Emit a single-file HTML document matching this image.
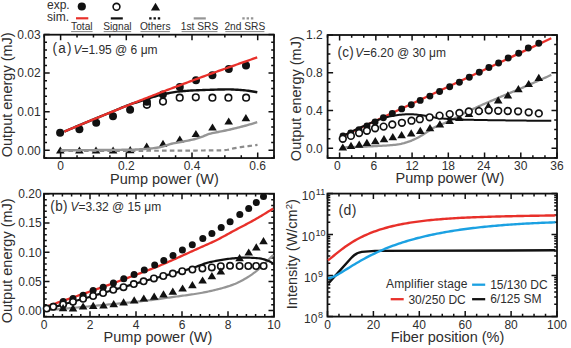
<!DOCTYPE html>
<html><head><meta charset="utf-8"><style>
html,body{margin:0;padding:0;background:#fff;}
body{width:571px;height:348px;overflow:hidden;font-family:"Liberation Sans",sans-serif;}
svg{display:block;}
text{font-family:"Liberation Sans",sans-serif;}
</style></head><body>
<svg width="571" height="348" viewBox="0 0 571 348" font-family="Liberation Sans, sans-serif">
<rect width="571" height="348" fill="#fff"/>
<text x="47" y="9.2" font-size="12" text-anchor="start" fill="#2e2e2e" >exp.</text>
<text x="47" y="20.6" font-size="12" text-anchor="start" fill="#2e2e2e" >sim.</text>
<circle cx="81.8" cy="6.5" r="4.1" fill="#111"/>
<circle cx="116.5" cy="6.8" r="3.4" fill="#fff" stroke="#111" stroke-width="1.6"/>
<path d="M155.5,2.7 L160.1,10.5 L150.9,10.5 Z" fill="#111"/>
<path d="M76,18.3 L88.3,18.3" fill="none" stroke="#e8302a" stroke-width="2.2" stroke-linejoin="round" />
<path d="M110.8,18.4 L122.8,18.4" fill="none" stroke="#111" stroke-width="2.2" stroke-linejoin="round" />
<path d="M149.2,18.4 L160.2,18.4" fill="none" stroke="#111" stroke-width="2.2" stroke-dasharray="2.4 1.9" stroke-linejoin="round" />
<path d="M193.7,18.4 L205.8,18.4" fill="none" stroke="#959595" stroke-width="2.2" stroke-linejoin="round" />
<path d="M242.3,18.4 L253.8,18.4" fill="none" stroke="#959595" stroke-width="2.2" stroke-dasharray="2.4 1.9" stroke-linejoin="round" />
<text x="81.85" y="29.8" font-size="10.2" text-anchor="middle" fill="#2e2e2e" >Total</text>
<line x1="71.1" y1="31.6" x2="92.6" y2="31.6" stroke="#777" stroke-width="0.9"/>
<text x="117.45" y="29.8" font-size="10.2" text-anchor="middle" fill="#2e2e2e" >Signal</text>
<line x1="103.7" y1="31.6" x2="131.2" y2="31.6" stroke="#777" stroke-width="0.9"/>
<text x="155.2" y="29.8" font-size="10.2" text-anchor="middle" fill="#2e2e2e" >Others</text>
<line x1="140.5" y1="31.6" x2="169.9" y2="31.6" stroke="#777" stroke-width="0.9"/>
<text x="199.55" y="29.8" font-size="10.2" text-anchor="middle" fill="#2e2e2e" >1st SRS</text>
<line x1="181.6" y1="31.6" x2="217.5" y2="31.6" stroke="#777" stroke-width="0.9"/>
<text x="244.85" y="29.8" font-size="10.2" text-anchor="middle" fill="#2e2e2e" >2nd SRS</text>
<line x1="225.3" y1="31.6" x2="264.4" y2="31.6" stroke="#777" stroke-width="0.9"/>
<path d="M44.17,158.05 v-2.8 M44.17,34.7 v2.8 M60.6,158.05 v-2.8 M60.6,34.7 v2.8 M77.03,158.05 v-2.8 M77.03,34.7 v2.8 M93.45,158.05 v-2.8 M93.45,34.7 v2.8 M109.88,158.05 v-2.8 M109.88,34.7 v2.8 M126.3,158.05 v-2.8 M126.3,34.7 v2.8 M142.73,158.05 v-2.8 M142.73,34.7 v2.8 M159.15,158.05 v-2.8 M159.15,34.7 v2.8 M175.58,158.05 v-2.8 M175.58,34.7 v2.8 M192,158.05 v-2.8 M192,34.7 v2.8 M208.43,158.05 v-2.8 M208.43,34.7 v2.8 M224.85,158.05 v-2.8 M224.85,34.7 v2.8 M241.28,158.05 v-2.8 M241.28,34.7 v2.8 M257.7,158.05 v-2.8 M257.7,34.7 v2.8 M274.12,158.05 v-2.8 M274.12,34.7 v2.8 M60.6,158.05 v-5.5 M60.6,34.7 v5.5 M126.3,158.05 v-5.5 M126.3,34.7 v5.5 M192,158.05 v-5.5 M192,34.7 v5.5 M257.7,158.05 v-5.5 M257.7,34.7 v5.5 M44.2,157.91 h2.8 M274,157.91 h-2.8 M44.2,150.2 h2.8 M274,150.2 h-2.8 M44.2,142.49 h2.8 M274,142.49 h-2.8 M44.2,134.78 h2.8 M274,134.78 h-2.8 M44.2,127.07 h2.8 M274,127.07 h-2.8 M44.2,119.36 h2.8 M274,119.36 h-2.8 M44.2,111.65 h2.8 M274,111.65 h-2.8 M44.2,103.94 h2.8 M274,103.94 h-2.8 M44.2,96.23 h2.8 M274,96.23 h-2.8 M44.2,88.52 h2.8 M274,88.52 h-2.8 M44.2,80.81 h2.8 M274,80.81 h-2.8 M44.2,73.1 h2.8 M274,73.1 h-2.8 M44.2,65.39 h2.8 M274,65.39 h-2.8 M44.2,57.68 h2.8 M274,57.68 h-2.8 M44.2,49.97 h2.8 M274,49.97 h-2.8 M44.2,42.26 h2.8 M274,42.26 h-2.8 M44.2,34.55 h2.8 M274,34.55 h-2.8 M44.2,150.2 h5.5 M274,150.2 h-5.5 M44.2,111.65 h5.5 M274,111.65 h-5.5 M44.2,73.1 h5.5 M274,73.1 h-5.5 M44.2,34.55 h5.5 M274,34.55 h-5.5 " stroke="#111" stroke-width="1.5" fill="none"/>
<rect x="44.2" y="34.7" width="229.8" height="123.35" fill="none" stroke="#111" stroke-width="1.8"/>
<text x="60.6" y="169.6" font-size="12" text-anchor="middle" fill="#2e2e2e" >0</text>
<text x="126.3" y="169.6" font-size="12" text-anchor="middle" fill="#2e2e2e" >0.2</text>
<text x="192" y="169.6" font-size="12" text-anchor="middle" fill="#2e2e2e" >0.4</text>
<text x="257.7" y="169.6" font-size="12" text-anchor="middle" fill="#2e2e2e" >0.6</text>
<text x="40.6" y="154.5" font-size="12" text-anchor="end" fill="#2e2e2e" >0.00</text>
<text x="40.6" y="115.95" font-size="12" text-anchor="end" fill="#2e2e2e" >0.01</text>
<text x="40.6" y="77.4" font-size="12" text-anchor="end" fill="#2e2e2e" >0.02</text>
<text x="40.6" y="38.85" font-size="12" text-anchor="end" fill="#2e2e2e" >0.03</text>
<text x="164.5" y="183.8" font-size="14.5" text-anchor="middle" fill="#2e2e2e" >Pump power (W)</text>
<text transform="translate(12.2,94.8) rotate(-90)" font-size="14.5" text-anchor="middle" fill="#2e2e2e">Output energy (mJ)</text>
<text transform="translate(52.5,53.0) scale(1,1.1)" font-size="13.5" letter-spacing="1.3" fill="#2e2e2e">(a)</text>
<text x="73.4" y="53.7" font-size="12" fill="#2e2e2e"><tspan font-style="italic">V</tspan>=1.95 @ 6 &#956;m</text>
<circle cx="146.9" cy="104.8" r="3.3" fill="#fff" stroke="#111" stroke-width="1.6"/>
<circle cx="163" cy="101.6" r="3.3" fill="#fff" stroke="#111" stroke-width="1.6"/>
<circle cx="179.7" cy="97.7" r="3.3" fill="#fff" stroke="#111" stroke-width="1.6"/>
<circle cx="195.8" cy="97.3" r="3.3" fill="#fff" stroke="#111" stroke-width="1.6"/>
<circle cx="212.4" cy="97.7" r="3.3" fill="#fff" stroke="#111" stroke-width="1.6"/>
<circle cx="228.4" cy="97.7" r="3.3" fill="#fff" stroke="#111" stroke-width="1.6"/>
<circle cx="246.1" cy="97.7" r="3.3" fill="#fff" stroke="#111" stroke-width="1.6"/>
<circle cx="60.1" cy="132.7" r="4.0" fill="#111"/>
<circle cx="79.4" cy="129.3" r="4.0" fill="#111"/>
<circle cx="96.2" cy="122.8" r="4.0" fill="#111"/>
<circle cx="113" cy="116.3" r="4.0" fill="#111"/>
<circle cx="130.1" cy="109.7" r="4.0" fill="#111"/>
<circle cx="146.9" cy="101.8" r="4.0" fill="#111"/>
<circle cx="162.9" cy="94.5" r="4.0" fill="#111"/>
<circle cx="179.8" cy="86.9" r="4.0" fill="#111"/>
<circle cx="196" cy="80.3" r="4.0" fill="#111"/>
<circle cx="212.4" cy="75.2" r="4.0" fill="#111"/>
<circle cx="228.8" cy="69.1" r="4.0" fill="#111"/>
<circle cx="246" cy="65.5" r="4.0" fill="#111"/>
<path d="M60.3,146.4 L64.6,153.6 L56,153.6 Z" fill="#111"/>
<path d="M79.4,146.4 L83.7,153.6 L75.1,153.6 Z" fill="#111"/>
<path d="M96,146.4 L100.3,153.6 L91.7,153.6 Z" fill="#111"/>
<path d="M113.1,146.4 L117.4,153.6 L108.8,153.6 Z" fill="#111"/>
<path d="M130.2,146 L134.5,153.2 L125.9,153.2 Z" fill="#111"/>
<path d="M146.7,142.6 L151,149.8 L142.4,149.8 Z" fill="#111"/>
<path d="M163,139.8 L167.3,147 L158.7,147 Z" fill="#111"/>
<path d="M179.8,135.4 L184.1,142.6 L175.5,142.6 Z" fill="#111"/>
<path d="M195.9,129.9 L200.2,137.1 L191.6,137.1 Z" fill="#111"/>
<path d="M212.5,123.4 L216.8,130.6 L208.2,130.6 Z" fill="#111"/>
<path d="M228.7,117.4 L233,124.6 L224.4,124.6 Z" fill="#111"/>
<path d="M245.9,114 L250.2,121.2 L241.6,121.2 Z" fill="#111"/>
<path d="M60.6,151 L62.1,151 L63.61,151 L65.11,150.99 L66.61,150.99 L68.12,150.99 L69.62,150.99 L71.12,150.99 L72.62,150.98 L74.13,150.98 L75.63,150.98 L77.13,150.98 L78.64,150.97 L80.14,150.97 L81.64,150.97 L83.15,150.96 L84.65,150.96 L86.15,150.96 L87.65,150.95 L89.16,150.95 L90.66,150.95 L92.16,150.94 L93.67,150.94 L95.17,150.94 L96.67,150.93 L98.18,150.93 L99.68,150.92 L101.18,150.92 L102.69,150.92 L104.19,150.91 L105.69,150.91 L107.19,150.9 L108.7,150.9 L110.2,150.9 L111.7,150.89 L113.21,150.89 L114.71,150.88 L116.21,150.88 L117.72,150.87 L119.22,150.87 L120.72,150.86 L122.23,150.86 L123.73,150.85 L125.23,150.85 L126.73,150.84 L128.24,150.84 L129.74,150.83 L131.24,150.83 L132.75,150.82 L134.25,150.82 L135.75,150.81 L137.26,150.81 L138.76,150.8 L140.26,150.8 L141.76,150.79 L143.27,150.79 L144.77,150.78 L146.27,150.78 L147.78,150.77 L149.28,150.77 L150.78,150.76 L152.29,150.75 L153.79,150.75 L155.29,150.74 L156.8,150.74 L158.3,150.73 L159.8,150.72 L161.3,150.72 L162.81,150.71 L164.31,150.7 L165.81,150.7 L167.32,150.69 L168.82,150.68 L170.32,150.67 L171.83,150.67 L173.33,150.66 L174.83,150.65 L176.34,150.64 L177.84,150.63 L179.34,150.63 L180.84,150.62 L182.35,150.61 L183.85,150.6 L185.35,150.59 L186.86,150.58 L188.36,150.57 L189.86,150.57 L191.37,150.56 L192.87,150.55 L194.37,150.54 L195.87,150.53 L197.38,150.52 L198.88,150.51 L200.38,150.5 L201.89,150.49 L203.39,150.48 L204.89,150.47 L206.4,150.46 L207.9,150.46 L209.4,150.45 L210.91,150.44 L212.41,150.43 L213.91,150.41 L215.41,150.4 L216.92,150.38 L218.42,150.36 L219.92,150.34 L221.43,150.31 L222.93,150.27 L224.43,150.15 L225.94,149.98 L227.44,149.78 L228.94,149.54 L230.45,149.19 L231.95,148.8 L233.45,148.42 L234.95,148.11 L236.46,147.81 L237.96,147.54 L239.46,147.28 L240.97,147.06 L242.47,146.85 L243.97,146.66 L245.48,146.47 L246.98,146.28 L248.48,146.09 L249.98,145.91 L251.49,145.72 L252.99,145.52 L254.49,145.32 L256,145.11 L257.5,144.9" fill="none" stroke="#8c8c8c" stroke-width="2.2" stroke-dasharray="4.6 3.2" stroke-linejoin="round" />
<path d="M60.6,150.2 L62.1,150.2 L63.6,150.2 L65.1,150.2 L66.6,150.2 L68.1,150.19 L69.6,150.19 L71.11,150.19 L72.61,150.19 L74.11,150.18 L75.61,150.18 L77.11,150.17 L78.61,150.17 L80.11,150.16 L81.61,150.16 L83.11,150.15 L84.61,150.14 L86.11,150.13 L87.61,150.13 L89.11,150.12 L90.62,150.11 L92.12,150.1 L93.62,150.09 L95.12,150.08 L96.62,150.07 L98.12,150.06 L99.62,150.05 L101.12,150.03 L102.62,150.02 L104.12,150.01 L105.62,149.99 L107.12,149.98 L108.62,149.96 L110.13,149.95 L111.63,149.93 L113.13,149.92 L114.63,149.9 L116.13,149.88 L117.63,149.87 L119.13,149.85 L120.63,149.83 L122.13,149.81 L123.63,149.79 L125.13,149.77 L126.63,149.75 L128.13,149.73 L129.64,149.71 L131.14,149.68 L132.64,149.64 L134.14,149.59 L135.64,149.53 L137.14,149.47 L138.64,149.39 L140.14,149.31 L141.64,149.22 L143.14,149.12 L144.64,149.02 L146.14,148.92 L147.64,148.8 L149.15,148.66 L150.65,148.51 L152.15,148.34 L153.65,148.15 L155.15,147.95 L156.65,147.74 L158.15,147.51 L159.65,147.26 L161.15,146.94 L162.65,146.54 L164.15,146.09 L165.65,145.61 L167.15,145.11 L168.65,144.62 L170.16,144.16 L171.66,143.75 L173.16,143.41 L174.66,143.11 L176.16,142.83 L177.66,142.56 L179.16,142.3 L180.66,142.04 L182.16,141.76 L183.66,141.47 L185.16,141.17 L186.66,140.88 L188.16,140.57 L189.67,140.26 L191.17,139.94 L192.67,139.6 L194.17,139.23 L195.67,138.84 L197.17,138.42 L198.67,137.96 L200.17,137.48 L201.67,136.96 L203.17,136.35 L204.67,135.69 L206.17,135.04 L207.67,134.44 L209.18,133.95 L210.68,133.55 L212.18,133.2 L213.68,132.88 L215.18,132.57 L216.68,132.27 L218.18,131.96 L219.68,131.66 L221.18,131.36 L222.68,131.07 L224.18,130.78 L225.68,130.47 L227.18,130.14 L228.69,129.81 L230.19,129.47 L231.69,129.13 L233.19,128.77 L234.69,128.42 L236.19,128.05 L237.69,127.68 L239.19,127.31 L240.69,126.92 L242.19,126.53 L243.69,126.14 L245.19,125.73 L246.69,125.32 L248.2,124.9 L249.7,124.46 L251.2,124.03 L252.7,123.58 L254.2,123.13 L255.7,122.67 L257.2,122.2" fill="none" stroke="#959595" stroke-width="2.4" stroke-linejoin="round" />
<path d="M64.4,131.6 L65.91,130.95 L67.41,130.31 L68.92,129.67 L70.43,129.02 L71.94,128.38 L73.44,127.74 L74.95,127.11 L76.46,126.47 L77.96,125.83 L79.47,125.2 L80.98,124.57 L82.48,123.93 L83.99,123.3 L85.5,122.68 L87.01,122.05 L88.51,121.42 L90.02,120.8 L91.53,120.18 L93.03,119.56 L94.54,118.94 L96.05,118.32 L97.55,117.7 L99.06,117.08 L100.57,116.47 L102.08,115.85 L103.58,115.24 L105.09,114.62 L106.6,114.01 L108.1,113.39 L109.61,112.78 L111.12,112.16 L112.62,111.53 L114.13,110.9 L115.64,110.26 L117.15,109.63 L118.65,108.99 L120.16,108.36 L121.67,107.73 L123.17,107.12 L124.68,106.51 L126.19,105.92 L127.7,105.34 L129.2,104.79 L130.71,104.25 L132.22,103.73 L133.72,103.23 L135.23,102.74 L136.74,102.27 L138.24,101.8 L139.75,101.33 L141.26,100.87 L142.77,100.41 L144.27,99.94 L145.78,99.47 L147.29,98.99 L148.79,98.49 L150.3,97.98 L151.81,97.48 L153.31,96.98 L154.82,96.49 L156.33,96.02 L157.84,95.58 L159.34,95.17 L160.85,94.79 L162.36,94.44 L163.86,94.11 L165.37,93.8 L166.88,93.5 L168.39,93.22 L169.89,92.93 L171.4,92.65 L172.91,92.37 L174.41,92.11 L175.92,91.87 L177.43,91.67 L178.93,91.5 L180.44,91.35 L181.95,91.2 L183.46,91.07 L184.96,90.95 L186.47,90.84 L187.98,90.74 L189.48,90.64 L190.99,90.55 L192.5,90.47 L194,90.4 L195.51,90.33 L197.02,90.26 L198.53,90.2 L200.03,90.14 L201.54,90.08 L203.05,90.02 L204.55,89.97 L206.06,89.92 L207.57,89.87 L209.08,89.83 L210.58,89.78 L212.09,89.74 L213.6,89.7 L215.1,89.66 L216.61,89.62 L218.12,89.57 L219.62,89.53 L221.13,89.49 L222.64,89.46 L224.15,89.43 L225.65,89.41 L227.16,89.4 L228.67,89.4 L230.17,89.42 L231.68,89.47 L233.19,89.53 L234.69,89.6 L236.2,89.69 L237.71,89.79 L239.22,89.9 L240.72,90.01 L242.23,90.12 L243.74,90.25 L245.24,90.4 L246.75,90.57 L248.26,90.77 L249.76,90.99 L251.27,91.22 L252.78,91.47 L254.29,91.74 L255.79,92.01 L257.3,92.3" fill="none" stroke="#111" stroke-width="2.4" stroke-linejoin="round" />
<path d="M64.4,131.6 L65.91,130.95 L67.41,130.31 L68.92,129.67 L70.43,129.03 L71.93,128.39 L73.44,127.75 L74.94,127.11 L76.45,126.47 L77.96,125.84 L79.46,125.2 L80.97,124.57 L82.48,123.94 L83.98,123.31 L85.49,122.68 L86.99,122.05 L88.5,121.43 L90.01,120.8 L91.51,120.18 L93.02,119.56 L94.53,118.94 L96.03,118.32 L97.54,117.71 L99.04,117.09 L100.55,116.47 L102.06,115.86 L103.56,115.24 L105.07,114.63 L106.58,114.01 L108.08,113.4 L109.59,112.79 L111.09,112.17 L112.6,111.56 L114.11,110.95 L115.61,110.33 L117.12,109.72 L118.62,109.11 L120.13,108.5 L121.64,107.89 L123.14,107.28 L124.65,106.67 L126.16,106.06 L127.66,105.45 L129.17,104.85 L130.68,104.24 L132.18,103.64 L133.69,103.04 L135.19,102.45 L136.7,101.85 L138.21,101.25 L139.71,100.66 L141.22,100.07 L142.72,99.48 L144.23,98.89 L145.74,98.3 L147.24,97.71 L148.75,97.12 L150.26,96.54 L151.76,95.95 L153.27,95.37 L154.77,94.79 L156.28,94.21 L157.79,93.63 L159.29,93.05 L160.8,92.47 L162.31,91.9 L163.81,91.32 L165.32,90.75 L166.82,90.18 L168.33,89.61 L169.84,89.04 L171.34,88.47 L172.85,87.9 L174.36,87.33 L175.86,86.77 L177.37,86.2 L178.88,85.63 L180.38,85.07 L181.89,84.5 L183.39,83.94 L184.9,83.38 L186.41,82.81 L187.91,82.25 L189.42,81.68 L190.93,81.12 L192.43,80.56 L193.94,79.99 L195.44,79.43 L196.95,78.87 L198.46,78.31 L199.96,77.75 L201.47,77.2 L202.97,76.64 L204.48,76.09 L205.99,75.54 L207.49,74.98 L209,74.44 L210.51,73.89 L212.01,73.34 L213.52,72.8 L215.03,72.26 L216.53,71.72 L218.04,71.18 L219.54,70.64 L221.05,70.1 L222.56,69.56 L224.06,69.03 L225.57,68.49 L227.07,67.96 L228.58,67.42 L230.09,66.89 L231.59,66.36 L233.1,65.82 L234.61,65.29 L236.11,64.76 L237.62,64.23 L239.12,63.7 L240.63,63.17 L242.14,62.64 L243.64,62.11 L245.15,61.59 L246.66,61.06 L248.16,60.54 L249.67,60.01 L251.17,59.49 L252.68,58.96 L254.19,58.44 L255.69,57.92 L257.2,57.4" fill="none" stroke="#e8302a" stroke-width="2.3" stroke-linejoin="round" />
<path d="M44,316.8 v-2.8 M44,193.7 v2.8 M53.2,316.8 v-2.8 M53.2,193.7 v2.8 M62.4,316.8 v-2.8 M62.4,193.7 v2.8 M71.6,316.8 v-2.8 M71.6,193.7 v2.8 M80.8,316.8 v-2.8 M80.8,193.7 v2.8 M90,316.8 v-2.8 M90,193.7 v2.8 M99.2,316.8 v-2.8 M99.2,193.7 v2.8 M108.4,316.8 v-2.8 M108.4,193.7 v2.8 M117.6,316.8 v-2.8 M117.6,193.7 v2.8 M126.8,316.8 v-2.8 M126.8,193.7 v2.8 M136,316.8 v-2.8 M136,193.7 v2.8 M145.2,316.8 v-2.8 M145.2,193.7 v2.8 M154.4,316.8 v-2.8 M154.4,193.7 v2.8 M163.6,316.8 v-2.8 M163.6,193.7 v2.8 M172.8,316.8 v-2.8 M172.8,193.7 v2.8 M182,316.8 v-2.8 M182,193.7 v2.8 M191.2,316.8 v-2.8 M191.2,193.7 v2.8 M200.4,316.8 v-2.8 M200.4,193.7 v2.8 M209.6,316.8 v-2.8 M209.6,193.7 v2.8 M218.8,316.8 v-2.8 M218.8,193.7 v2.8 M228,316.8 v-2.8 M228,193.7 v2.8 M237.2,316.8 v-2.8 M237.2,193.7 v2.8 M246.4,316.8 v-2.8 M246.4,193.7 v2.8 M255.6,316.8 v-2.8 M255.6,193.7 v2.8 M264.8,316.8 v-2.8 M264.8,193.7 v2.8 M274,316.8 v-2.8 M274,193.7 v2.8 M44,316.8 v-5.5 M44,193.7 v5.5 M90,316.8 v-5.5 M90,193.7 v5.5 M136,316.8 v-5.5 M136,193.7 v5.5 M182,316.8 v-5.5 M182,193.7 v5.5 M228,316.8 v-5.5 M228,193.7 v5.5 M274,316.8 v-5.5 M274,193.7 v5.5 M44,316.44 h2.8 M274,316.44 h-2.8 M44,310.6 h2.8 M274,310.6 h-2.8 M44,304.76 h2.8 M274,304.76 h-2.8 M44,298.92 h2.8 M274,298.92 h-2.8 M44,293.08 h2.8 M274,293.08 h-2.8 M44,287.24 h2.8 M274,287.24 h-2.8 M44,281.4 h2.8 M274,281.4 h-2.8 M44,275.56 h2.8 M274,275.56 h-2.8 M44,269.72 h2.8 M274,269.72 h-2.8 M44,263.88 h2.8 M274,263.88 h-2.8 M44,258.04 h2.8 M274,258.04 h-2.8 M44,252.2 h2.8 M274,252.2 h-2.8 M44,246.36 h2.8 M274,246.36 h-2.8 M44,240.52 h2.8 M274,240.52 h-2.8 M44,234.68 h2.8 M274,234.68 h-2.8 M44,228.84 h2.8 M274,228.84 h-2.8 M44,223 h2.8 M274,223 h-2.8 M44,217.16 h2.8 M274,217.16 h-2.8 M44,211.32 h2.8 M274,211.32 h-2.8 M44,205.48 h2.8 M274,205.48 h-2.8 M44,199.64 h2.8 M274,199.64 h-2.8 M44,193.8 h2.8 M274,193.8 h-2.8 M44,310.6 h5.5 M274,310.6 h-5.5 M44,281.4 h5.5 M274,281.4 h-5.5 M44,252.2 h5.5 M274,252.2 h-5.5 M44,223 h5.5 M274,223 h-5.5 M44,193.8 h5.5 M274,193.8 h-5.5 " stroke="#111" stroke-width="1.5" fill="none"/>
<rect x="44" y="193.7" width="230" height="123.1" fill="none" stroke="#111" stroke-width="1.8"/>
<text x="44" y="328.8" font-size="12" text-anchor="middle" fill="#2e2e2e" >0</text>
<text x="90" y="328.8" font-size="12" text-anchor="middle" fill="#2e2e2e" >2</text>
<text x="136" y="328.8" font-size="12" text-anchor="middle" fill="#2e2e2e" >4</text>
<text x="182" y="328.8" font-size="12" text-anchor="middle" fill="#2e2e2e" >6</text>
<text x="228" y="328.8" font-size="12" text-anchor="middle" fill="#2e2e2e" >8</text>
<text x="274" y="328.8" font-size="12" text-anchor="middle" fill="#2e2e2e" >10</text>
<text x="41.6" y="314.9" font-size="12" text-anchor="end" fill="#2e2e2e" >0.00</text>
<text x="41.6" y="285.7" font-size="12" text-anchor="end" fill="#2e2e2e" >0.05</text>
<text x="41.6" y="256.5" font-size="12" text-anchor="end" fill="#2e2e2e" >0.10</text>
<text x="41.6" y="227.3" font-size="12" text-anchor="end" fill="#2e2e2e" >0.15</text>
<text x="41.6" y="198.1" font-size="12" text-anchor="end" fill="#2e2e2e" >0.20</text>
<text x="158" y="341.9" font-size="14.5" text-anchor="middle" fill="#2e2e2e" >Pump power (W)</text>
<text transform="translate(12.3,260.8) rotate(-90)" font-size="14.5" text-anchor="middle" fill="#2e2e2e">Output energy (mJ)</text>
<text transform="translate(50.3,210.6) scale(1,1.1)" font-size="13.5" letter-spacing="0.4" fill="#2e2e2e">(b)</text>
<text x="70.4" y="211.0" font-size="12" fill="#2e2e2e"><tspan font-style="italic">V</tspan>=3.32 @ 15 &#956;m</text>
<path d="M44,310.5 L45.51,310.37 L47.02,310.23 L48.52,310.1 L50.03,309.97 L51.54,309.83 L53.05,309.7 L54.56,309.56 L56.06,309.42 L57.57,309.29 L59.08,309.15 L60.59,309.01 L62.09,308.88 L63.6,308.74 L65.11,308.6 L66.62,308.46 L68.13,308.32 L69.63,308.18 L71.14,308.04 L72.65,307.9 L74.16,307.76 L75.67,307.62 L77.17,307.48 L78.68,307.34 L80.19,307.2 L81.7,307.06 L83.21,306.91 L84.71,306.77 L86.22,306.63 L87.73,306.48 L89.24,306.34 L90.74,306.19 L92.25,306.05 L93.76,305.9 L95.27,305.76 L96.78,305.61 L98.28,305.47 L99.79,305.32 L101.3,305.17 L102.81,305.03 L104.32,304.88 L105.82,304.74 L107.33,304.59 L108.84,304.45 L110.35,304.31 L111.86,304.16 L113.36,304.02 L114.87,303.87 L116.38,303.73 L117.89,303.58 L119.39,303.44 L120.9,303.29 L122.41,303.15 L123.92,303 L125.43,302.85 L126.93,302.7 L128.44,302.55 L129.95,302.4 L131.46,302.24 L132.97,302.09 L134.47,301.93 L135.98,301.77 L137.49,301.61 L139,301.45 L140.51,301.29 L142.01,301.12 L143.52,300.95 L145.03,300.78 L146.54,300.61 L148.04,300.43 L149.55,300.25 L151.06,300.07 L152.57,299.88 L154.08,299.69 L155.58,299.48 L157.09,299.28 L158.6,299.07 L160.11,298.85 L161.62,298.64 L163.12,298.42 L164.63,298.2 L166.14,297.98 L167.65,297.76 L169.16,297.55 L170.66,297.33 L172.17,297.12 L173.68,296.91 L175.19,296.7 L176.69,296.5 L178.2,296.29 L179.71,296.09 L181.22,295.89 L182.73,295.69 L184.23,295.49 L185.74,295.29 L187.25,295.08 L188.76,294.87 L190.27,294.66 L191.77,294.44 L193.28,294.22 L194.79,293.99 L196.3,293.75 L197.81,293.51 L199.31,293.25 L200.82,292.99 L202.33,292.71 L203.84,292.43 L205.34,292.13 L206.85,291.83 L208.36,291.51 L209.87,291.19 L211.38,290.86 L212.88,290.51 L214.39,290.16 L215.9,289.79 L217.41,289.42 L218.92,289.03 L220.42,288.63 L221.93,288.22 L223.44,287.79 L224.95,287.35 L226.46,286.9 L227.96,286.42 L229.47,285.93 L230.98,285.41 L232.49,284.86 L233.99,284.28 L235.5,283.66 L237.01,282.99 L238.52,282.27 L240.03,281.52 L241.53,280.73 L243.04,279.91 L244.55,279.07 L246.06,278.2 L247.57,277.3 L249.07,276.34 L250.58,275.34 L252.09,274.3 L253.6,273.22 L255.11,272.09 L256.61,270.9 L258.12,269.66 L259.63,268.37 L261.14,267.04 L262.64,265.67 L264.15,264.22 L265.66,262.7 L267.17,261.15 L268.68,259.62 L270.18,258.09 L271.69,256.55 L273.2,255" fill="none" stroke="#959595" stroke-width="2.2" stroke-linejoin="round" />
<path d="M44,307.5 L45.51,306.96 L47.02,306.42 L48.52,305.89 L50.03,305.35 L51.54,304.82 L53.05,304.29 L54.56,303.76 L56.06,303.23 L57.57,302.7 L59.08,302.18 L60.59,301.66 L62.09,301.14 L63.6,300.63 L65.11,300.11 L66.62,299.59 L68.13,299.08 L69.63,298.56 L71.14,298.05 L72.65,297.53 L74.16,297.02 L75.67,296.5 L77.17,295.98 L78.68,295.46 L80.19,294.93 L81.7,294.41 L83.21,293.89 L84.71,293.36 L86.22,292.84 L87.73,292.31 L89.24,291.78 L90.74,291.26 L92.25,290.73 L93.76,290.2 L95.27,289.67 L96.78,289.14 L98.28,288.61 L99.79,288.08 L101.3,287.54 L102.81,287 L104.32,286.46 L105.82,285.92 L107.33,285.38 L108.84,284.83 L110.35,284.29 L111.86,283.74 L113.36,283.18 L114.87,282.63 L116.38,282.08 L117.89,281.52 L119.39,280.96 L120.9,280.4 L122.41,279.84 L123.92,279.28 L125.43,278.71 L126.93,278.15 L128.44,277.58 L129.95,277.02 L131.46,276.45 L132.97,275.89 L134.47,275.33 L135.98,274.77 L137.49,274.21 L139,273.65 L140.51,273.09 L142.01,272.52 L143.52,271.96 L145.03,271.39 L146.54,270.82 L148.04,270.24 L149.55,269.67 L151.06,269.08 L152.57,268.49 L154.08,267.9 L155.58,267.29 L157.09,266.68 L158.6,266.07 L160.11,265.44 L161.62,264.8 L163.12,264.16 L164.63,263.51 L166.14,262.85 L167.65,262.19 L169.16,261.53 L170.66,260.86 L172.17,260.19 L173.68,259.52 L175.19,258.85 L176.69,258.18 L178.2,257.51 L179.71,256.84 L181.22,256.17 L182.73,255.49 L184.23,254.81 L185.74,254.13 L187.25,253.44 L188.76,252.76 L190.27,252.07 L191.77,251.39 L193.28,250.7 L194.79,250.02 L196.3,249.33 L197.81,248.65 L199.31,247.96 L200.82,247.28 L202.33,246.61 L203.84,245.94 L205.34,245.28 L206.85,244.62 L208.36,243.95 L209.87,243.28 L211.38,242.6 L212.88,241.91 L214.39,241.19 L215.9,240.46 L217.41,239.7 L218.92,238.93 L220.42,238.14 L221.93,237.34 L223.44,236.52 L224.95,235.7 L226.46,234.87 L227.96,234.04 L229.47,233.21 L230.98,232.38 L232.49,231.56 L233.99,230.74 L235.5,229.93 L237.01,229.13 L238.52,228.33 L240.03,227.54 L241.53,226.75 L243.04,225.96 L244.55,225.17 L246.06,224.37 L247.57,223.57 L249.07,222.77 L250.58,221.95 L252.09,221.13 L253.6,220.29 L255.11,219.44 L256.61,218.58 L258.12,217.71 L259.63,216.82 L261.14,215.93 L262.64,215.03 L264.15,214.13 L265.66,213.21 L267.17,212.28 L268.68,211.35 L270.18,210.41 L271.69,209.46 L273.2,208.5" fill="none" stroke="#e8302a" stroke-width="2.3" stroke-linejoin="round" />
<path d="M44,310.3 L45.51,309.83 L47.02,309.35 L48.52,308.88 L50.03,308.42 L51.54,307.95 L53.05,307.49 L54.56,307.03 L56.06,306.57 L57.57,306.12 L59.08,305.66 L60.59,305.21 L62.09,304.77 L63.6,304.32 L65.11,303.88 L66.62,303.45 L68.13,303.01 L69.63,302.58 L71.14,302.16 L72.65,301.73 L74.16,301.31 L75.67,300.88 L77.17,300.46 L78.68,300.03 L80.19,299.6 L81.7,299.17 L83.21,298.74 L84.71,298.31 L86.22,297.87 L87.73,297.44 L89.24,297 L90.74,296.56 L92.25,296.12 L93.76,295.69 L95.27,295.25 L96.78,294.81 L98.28,294.37 L99.79,293.93 L101.3,293.49 L102.81,293.06 L104.32,292.62 L105.82,292.18 L107.33,291.74 L108.84,291.31 L110.35,290.87 L111.86,290.43 L113.36,289.99 L114.87,289.55 L116.38,289.12 L117.89,288.68 L119.39,288.24 L120.9,287.81 L122.41,287.37 L123.92,286.93 L125.43,286.5 L126.93,286.06 L128.44,285.62 L129.95,285.18 L131.46,284.74 L132.97,284.3 L134.47,283.87 L135.98,283.43 L137.49,283 L139,282.57 L140.51,282.14 L142.01,281.71 L143.52,281.29 L145.03,280.88 L146.54,280.47 L148.04,280.06 L149.55,279.65 L151.06,279.25 L152.57,278.84 L154.08,278.44 L155.58,278.04 L157.09,277.64 L158.6,277.25 L160.11,276.85 L161.62,276.45 L163.12,276.05 L164.63,275.65 L166.14,275.25 L167.65,274.85 L169.16,274.46 L170.66,274.07 L172.17,273.67 L173.68,273.28 L175.19,272.88 L176.69,272.49 L178.2,272.08 L179.71,271.68 L181.22,271.27 L182.73,270.86 L184.23,270.44 L185.74,270.03 L187.25,269.61 L188.76,269.18 L190.27,268.74 L191.77,268.27 L193.28,267.77 L194.79,267.23 L196.3,266.67 L197.81,266.1 L199.31,265.55 L200.82,265.01 L202.33,264.45 L203.84,263.9 L205.34,263.39 L206.85,262.94 L208.36,262.55 L209.87,262.18 L211.38,261.84 L212.88,261.51 L214.39,261.21 L215.9,260.92 L217.41,260.64 L218.92,260.38 L220.42,260.13 L221.93,259.88 L223.44,259.63 L224.95,259.39 L226.46,259.16 L227.96,258.95 L229.47,258.75 L230.98,258.57 L232.49,258.41 L233.99,258.28 L235.5,258.15 L237.01,258.02 L238.52,257.9 L240.03,257.79 L241.53,257.7 L243.04,257.64 L244.55,257.6 L246.06,257.6 L247.57,257.63 L249.07,257.67 L250.58,257.73 L252.09,257.81 L253.6,257.9 L255.11,258.01 L256.61,258.13 L258.12,258.26 L259.63,258.4 L261.14,258.62 L262.64,258.95 L264.15,259.37 L265.66,259.86 L267.17,260.41 L268.68,260.99 L270.18,261.73 L271.69,262.62 L273.2,263.6" fill="none" stroke="#111" stroke-width="2.2" stroke-linejoin="round" />
<circle cx="46.7" cy="308.4" r="3.5" fill="#111"/>
<circle cx="53.3" cy="306.3" r="3.5" fill="#111"/>
<circle cx="63.2" cy="301.4" r="3.5" fill="#111"/>
<circle cx="73" cy="298.6" r="3.5" fill="#111"/>
<circle cx="83.1" cy="295.3" r="3.5" fill="#111"/>
<circle cx="93.1" cy="290.4" r="3.5" fill="#111"/>
<circle cx="103.2" cy="287.3" r="3.5" fill="#111"/>
<circle cx="113.4" cy="283" r="3.5" fill="#111"/>
<circle cx="123.8" cy="278.8" r="3.5" fill="#111"/>
<circle cx="134.1" cy="274.4" r="3.5" fill="#111"/>
<circle cx="144.3" cy="270" r="3.5" fill="#111"/>
<circle cx="154.7" cy="265" r="3.5" fill="#111"/>
<circle cx="163.8" cy="260.6" r="3.5" fill="#111"/>
<circle cx="173" cy="255.6" r="3.5" fill="#111"/>
<circle cx="182.4" cy="250" r="3.5" fill="#111"/>
<circle cx="192.3" cy="244.7" r="3.5" fill="#111"/>
<circle cx="202.8" cy="238.6" r="3.5" fill="#111"/>
<circle cx="211.9" cy="233.4" r="3.5" fill="#111"/>
<circle cx="221.2" cy="227.6" r="3.5" fill="#111"/>
<circle cx="230.1" cy="221.8" r="3.5" fill="#111"/>
<circle cx="239.8" cy="214.4" r="3.5" fill="#111"/>
<circle cx="248.7" cy="208.4" r="3.5" fill="#111"/>
<circle cx="256.3" cy="202.6" r="3.5" fill="#111"/>
<circle cx="263.5" cy="196.5" r="3.5" fill="#111"/>
<circle cx="46.7" cy="308.6" r="3.2" fill="#fff" stroke="#111" stroke-width="1.6"/>
<circle cx="53.3" cy="306.8" r="3.2" fill="#fff" stroke="#111" stroke-width="1.6"/>
<circle cx="63.1" cy="304.5" r="3.2" fill="#fff" stroke="#111" stroke-width="1.6"/>
<circle cx="73" cy="301.8" r="3.2" fill="#fff" stroke="#111" stroke-width="1.6"/>
<circle cx="83.1" cy="298.8" r="3.2" fill="#fff" stroke="#111" stroke-width="1.6"/>
<circle cx="93.1" cy="296" r="3.2" fill="#fff" stroke="#111" stroke-width="1.6"/>
<circle cx="103.1" cy="293" r="3.2" fill="#fff" stroke="#111" stroke-width="1.6"/>
<circle cx="113.3" cy="289.8" r="3.2" fill="#fff" stroke="#111" stroke-width="1.6"/>
<circle cx="123.5" cy="287.2" r="3.2" fill="#fff" stroke="#111" stroke-width="1.6"/>
<circle cx="133.8" cy="284.1" r="3.2" fill="#fff" stroke="#111" stroke-width="1.6"/>
<circle cx="143.6" cy="281.3" r="3.2" fill="#fff" stroke="#111" stroke-width="1.6"/>
<circle cx="153.9" cy="278.4" r="3.2" fill="#fff" stroke="#111" stroke-width="1.6"/>
<circle cx="163.3" cy="276" r="3.2" fill="#fff" stroke="#111" stroke-width="1.6"/>
<circle cx="172.8" cy="273.6" r="3.2" fill="#fff" stroke="#111" stroke-width="1.6"/>
<circle cx="182.2" cy="271.2" r="3.2" fill="#fff" stroke="#111" stroke-width="1.6"/>
<circle cx="192.4" cy="269.6" r="3.2" fill="#fff" stroke="#111" stroke-width="1.6"/>
<circle cx="202.4" cy="268.4" r="3.2" fill="#fff" stroke="#111" stroke-width="1.6"/>
<circle cx="211.8" cy="267.4" r="3.2" fill="#fff" stroke="#111" stroke-width="1.6"/>
<circle cx="220.8" cy="266.2" r="3.2" fill="#fff" stroke="#111" stroke-width="1.6"/>
<circle cx="230" cy="265.8" r="3.2" fill="#fff" stroke="#111" stroke-width="1.6"/>
<circle cx="239.6" cy="266" r="3.2" fill="#fff" stroke="#111" stroke-width="1.6"/>
<circle cx="248.3" cy="266" r="3.2" fill="#fff" stroke="#111" stroke-width="1.6"/>
<circle cx="256.1" cy="266" r="3.2" fill="#fff" stroke="#111" stroke-width="1.6"/>
<circle cx="263.6" cy="266" r="3.2" fill="#fff" stroke="#111" stroke-width="1.6"/>
<path d="M63.1,304 L67.4,311.2 L58.8,311.2 Z" fill="#111"/>
<path d="M73,304.2 L77.3,311.4 L68.7,311.4 Z" fill="#111"/>
<path d="M83.1,302.4 L87.4,309.6 L78.8,309.6 Z" fill="#111"/>
<path d="M93.2,301.8 L97.5,309 L88.9,309 Z" fill="#111"/>
<path d="M103.5,301.3 L107.8,308.5 L99.2,308.5 Z" fill="#111"/>
<path d="M113.7,300 L118,307.2 L109.4,307.2 Z" fill="#111"/>
<path d="M123.6,298.3 L127.9,305.5 L119.3,305.5 Z" fill="#111"/>
<path d="M134.2,296.2 L138.5,303.4 L129.9,303.4 Z" fill="#111"/>
<path d="M143.8,294.4 L148.1,301.6 L139.5,301.6 Z" fill="#111"/>
<path d="M154.2,292.5 L158.5,299.7 L149.9,299.7 Z" fill="#111"/>
<path d="M163.5,290.3 L167.8,297.5 L159.2,297.5 Z" fill="#111"/>
<path d="M172.8,287.5 L177.1,294.7 L168.5,294.7 Z" fill="#111"/>
<path d="M182.6,284.4 L186.9,291.6 L178.3,291.6 Z" fill="#111"/>
<path d="M192.4,281 L196.7,288.2 L188.1,288.2 Z" fill="#111"/>
<path d="M202.6,276.4 L206.9,283.6 L198.3,283.6 Z" fill="#111"/>
<path d="M211.9,272 L216.2,279.2 L207.6,279.2 Z" fill="#111"/>
<path d="M220.8,267.4 L225.1,274.6 L216.5,274.6 Z" fill="#111"/>
<path d="M239.6,254 L243.9,261.2 L235.3,261.2 Z" fill="#111"/>
<path d="M248.7,248.4 L253,255.6 L244.4,255.6 Z" fill="#111"/>
<path d="M256.3,243.2 L260.6,250.4 L252,250.4 Z" fill="#111"/>
<path d="M263.5,237 L267.8,244.2 L259.2,244.2 Z" fill="#111"/>
<path d="M327.52,158 v-2.8 M327.52,35 v2.8 M339.6,158 v-2.8 M339.6,35 v2.8 M351.68,158 v-2.8 M351.68,35 v2.8 M363.76,158 v-2.8 M363.76,35 v2.8 M375.84,158 v-2.8 M375.84,35 v2.8 M387.92,158 v-2.8 M387.92,35 v2.8 M400,158 v-2.8 M400,35 v2.8 M412.08,158 v-2.8 M412.08,35 v2.8 M424.16,158 v-2.8 M424.16,35 v2.8 M436.24,158 v-2.8 M436.24,35 v2.8 M448.32,158 v-2.8 M448.32,35 v2.8 M460.4,158 v-2.8 M460.4,35 v2.8 M472.48,158 v-2.8 M472.48,35 v2.8 M484.56,158 v-2.8 M484.56,35 v2.8 M496.64,158 v-2.8 M496.64,35 v2.8 M508.72,158 v-2.8 M508.72,35 v2.8 M520.8,158 v-2.8 M520.8,35 v2.8 M532.88,158 v-2.8 M532.88,35 v2.8 M544.96,158 v-2.8 M544.96,35 v2.8 M557.04,158 v-2.8 M557.04,35 v2.8 M339.6,158 v-5.5 M339.6,35 v5.5 M375.84,158 v-5.5 M375.84,35 v5.5 M412.08,158 v-5.5 M412.08,35 v5.5 M448.32,158 v-5.5 M448.32,35 v5.5 M484.56,158 v-5.5 M484.56,35 v5.5 M520.8,158 v-5.5 M520.8,35 v5.5 M557.04,158 v-5.5 M557.04,35 v5.5 M327.6,157.74 h2.8 M557,157.74 h-2.8 M327.6,148.3 h2.8 M557,148.3 h-2.8 M327.6,138.86 h2.8 M557,138.86 h-2.8 M327.6,129.42 h2.8 M557,129.42 h-2.8 M327.6,119.98 h2.8 M557,119.98 h-2.8 M327.6,110.54 h2.8 M557,110.54 h-2.8 M327.6,101.1 h2.8 M557,101.1 h-2.8 M327.6,91.66 h2.8 M557,91.66 h-2.8 M327.6,82.22 h2.8 M557,82.22 h-2.8 M327.6,72.78 h2.8 M557,72.78 h-2.8 M327.6,63.34 h2.8 M557,63.34 h-2.8 M327.6,53.9 h2.8 M557,53.9 h-2.8 M327.6,44.46 h2.8 M557,44.46 h-2.8 M327.6,35.02 h2.8 M557,35.02 h-2.8 M327.6,148.3 h5.5 M557,148.3 h-5.5 M327.6,110.54 h5.5 M557,110.54 h-5.5 M327.6,72.78 h5.5 M557,72.78 h-5.5 M327.6,35.02 h5.5 M557,35.02 h-5.5 " stroke="#111" stroke-width="1.5" fill="none"/>
<rect x="327.6" y="35" width="229.4" height="123" fill="none" stroke="#111" stroke-width="1.8"/>
<text x="337.3" y="169.8" font-size="12" text-anchor="middle" fill="#2e2e2e" >0</text>
<text x="373.84" y="169.8" font-size="12" text-anchor="middle" fill="#2e2e2e" >6</text>
<text x="412.08" y="169.8" font-size="12" text-anchor="middle" fill="#2e2e2e" >12</text>
<text x="448.32" y="169.8" font-size="12" text-anchor="middle" fill="#2e2e2e" >18</text>
<text x="483.76" y="169.8" font-size="12" text-anchor="middle" fill="#2e2e2e" >24</text>
<text x="520.8" y="169.8" font-size="12" text-anchor="middle" fill="#2e2e2e" >30</text>
<text x="557.04" y="169.8" font-size="12" text-anchor="middle" fill="#2e2e2e" >36</text>
<text x="322.8" y="152.6" font-size="12" text-anchor="end" fill="#2e2e2e" >0.0</text>
<text x="322.8" y="114.84" font-size="12" text-anchor="end" fill="#2e2e2e" >0.4</text>
<text x="322.8" y="77.08" font-size="12" text-anchor="end" fill="#2e2e2e" >0.8</text>
<text x="322.8" y="39.32" font-size="12" text-anchor="end" fill="#2e2e2e" >1.2</text>
<text x="450" y="183.2" font-size="14.5" text-anchor="middle" fill="#2e2e2e" >Pump power (W)</text>
<text transform="translate(301.3,98.7) rotate(-90)" font-size="14.5" text-anchor="middle" fill="#2e2e2e">Output energy (mJ)</text>
<text transform="translate(337.5,56.8) scale(1,1.1)" font-size="13.5" letter-spacing="0.3" fill="#2e2e2e">(c)</text>
<text x="355.2" y="56.6" font-size="12" fill="#2e2e2e"><tspan font-style="italic">V</tspan>=6.20 @ 30 &#956;m</text>
<path d="M341,147.4 L342.5,147.36 L344,147.32 L345.51,147.28 L347.01,147.24 L348.51,147.19 L350.01,147.15 L351.51,147.1 L353.02,147.05 L354.52,147 L356.02,146.94 L357.52,146.89 L359.03,146.84 L360.53,146.78 L362.03,146.72 L363.53,146.66 L365.03,146.59 L366.54,146.53 L368.04,146.46 L369.54,146.39 L371.04,146.32 L372.55,146.25 L374.05,146.17 L375.55,146.1 L377.05,146.03 L378.55,145.96 L380.06,145.88 L381.56,145.8 L383.06,145.72 L384.56,145.63 L386.06,145.53 L387.57,145.44 L389.07,145.33 L390.57,145.22 L392.07,145.09 L393.57,144.94 L395.08,144.77 L396.58,144.56 L398.08,144.33 L399.58,144.08 L401.09,143.79 L402.59,143.44 L404.09,143.05 L405.59,142.62 L407.09,142.17 L408.6,141.68 L410.1,141.14 L411.6,140.56 L413.1,139.93 L414.6,139.27 L416.11,138.57 L417.61,137.79 L419.11,136.96 L420.61,136.09 L422.12,135.18 L423.62,134.26 L425.12,133.35 L426.62,132.4 L428.12,131.39 L429.63,130.35 L431.13,129.32 L432.63,128.35 L434.13,127.46 L435.63,126.69 L437.14,126.02 L438.64,125.4 L440.14,124.82 L441.64,124.26 L443.15,123.68 L444.65,123.05 L446.15,122.38 L447.65,121.69 L449.15,120.98 L450.66,120.25 L452.16,119.51 L453.66,118.75 L455.16,117.99 L456.66,117.21 L458.17,116.44 L459.67,115.66 L461.17,114.87 L462.67,114.09 L464.18,113.32 L465.68,112.55 L467.18,111.78 L468.68,111.03 L470.18,110.29 L471.69,109.57 L473.19,108.87 L474.69,108.17 L476.19,107.49 L477.69,106.81 L479.2,106.14 L480.7,105.47 L482.2,104.81 L483.7,104.15 L485.21,103.5 L486.71,102.85 L488.21,102.2 L489.71,101.56 L491.21,100.91 L492.72,100.27 L494.22,99.62 L495.72,98.98 L497.22,98.33 L498.72,97.69 L500.23,97.05 L501.73,96.41 L503.23,95.78 L504.73,95.15 L506.24,94.52 L507.74,93.89 L509.24,93.26 L510.74,92.63 L512.24,92.01 L513.75,91.38 L515.25,90.75 L516.75,90.12 L518.25,89.48 L519.75,88.85 L521.26,88.21 L522.76,87.57 L524.26,86.92 L525.76,86.27 L527.27,85.62 L528.77,84.96 L530.27,84.3 L531.77,83.64 L533.27,82.98 L534.78,82.32 L536.28,81.65 L537.78,80.99 L539.28,80.32 L540.78,79.65 L542.29,78.97 L543.79,78.3 L545.29,77.62 L546.79,76.95 L548.3,76.27 L549.8,75.58 L551.3,74.9" fill="none" stroke="#959595" stroke-width="2.3" stroke-linejoin="round" />
<path d="M341,137 L551.3,38.3" fill="none" stroke="#e8302a" stroke-width="2.3" stroke-linejoin="round" />
<path d="M341,137 L342.5,136.2 L344,135.42 L345.51,134.64 L347.01,133.87 L348.51,133.12 L350.01,132.37 L351.51,131.63 L353.02,130.9 L354.52,130.19 L356.02,129.48 L357.52,128.77 L359.03,128.08 L360.53,127.39 L362.03,126.72 L363.53,126.05 L365.03,125.38 L366.54,124.73 L368.04,124.08 L369.54,123.44 L371.04,122.8 L372.55,122.17 L374.05,121.54 L375.55,120.93 L377.05,120.33 L378.55,119.75 L380.06,119.22 L381.56,118.72 L383.06,118.24 L384.56,117.79 L386.06,117.36 L387.57,116.96 L389.07,116.6 L390.57,116.28 L392.07,115.99 L393.57,115.7 L395.08,115.44 L396.58,115.21 L398.08,115 L399.58,114.84 L401.09,114.71 L402.59,114.58 L404.09,114.46 L405.59,114.35 L407.09,114.27 L408.6,114.22 L410.1,114.2 L411.6,114.23 L413.1,114.31 L414.6,114.43 L416.11,114.58 L417.61,114.74 L419.11,114.9 L420.61,115.07 L422.12,115.27 L423.62,115.5 L425.12,115.75 L426.62,116.01 L428.12,116.28 L429.63,116.54 L431.13,116.8 L432.63,117.08 L434.13,117.37 L435.63,117.66 L437.14,117.92 L438.64,118.15 L440.14,118.31 L441.64,118.45 L443.15,118.58 L444.65,118.69 L446.15,118.81 L447.65,118.91 L449.15,119 L450.66,119.09 L452.16,119.17 L453.66,119.25 L455.16,119.32 L456.66,119.38 L458.17,119.44 L459.67,119.49 L461.17,119.54 L462.67,119.58 L464.18,119.63 L465.68,119.67 L467.18,119.71 L468.68,119.75 L470.18,119.78 L471.69,119.82 L473.19,119.85 L474.69,119.89 L476.19,119.92 L477.69,119.95 L479.2,119.98 L480.7,120.01 L482.2,120.03 L483.7,120.06 L485.21,120.08 L486.71,120.11 L488.21,120.13 L489.71,120.16 L491.21,120.18 L492.72,120.2 L494.22,120.22 L495.72,120.24 L497.22,120.26 L498.72,120.28 L500.23,120.3 L501.73,120.32 L503.23,120.34 L504.73,120.36 L506.24,120.38 L507.74,120.4 L509.24,120.42 L510.74,120.44 L512.24,120.46 L513.75,120.48 L515.25,120.49 L516.75,120.51 L518.25,120.53 L519.75,120.55 L521.26,120.56 L522.76,120.58 L524.26,120.6 L525.76,120.61 L527.27,120.63 L528.77,120.64 L530.27,120.66 L531.77,120.67 L533.27,120.68 L534.78,120.7 L536.28,120.71 L537.78,120.72 L539.28,120.73 L540.78,120.74 L542.29,120.75 L543.79,120.76 L545.29,120.77 L546.79,120.78 L548.3,120.79 L549.8,120.79 L551.3,120.8" fill="none" stroke="#111" stroke-width="2.0" stroke-linejoin="round" />
<circle cx="343" cy="136" r="3.45" fill="#111"/>
<circle cx="350.8" cy="133" r="3.45" fill="#111"/>
<circle cx="359" cy="129.7" r="3.45" fill="#111"/>
<circle cx="367" cy="126" r="3.45" fill="#111"/>
<circle cx="375.1" cy="122" r="3.45" fill="#111"/>
<circle cx="383.4" cy="117.8" r="3.45" fill="#111"/>
<circle cx="392.3" cy="113.5" r="3.45" fill="#111"/>
<circle cx="401.7" cy="108.9" r="3.45" fill="#111"/>
<circle cx="411.3" cy="104.8" r="3.45" fill="#111"/>
<circle cx="420.2" cy="100.4" r="3.45" fill="#111"/>
<circle cx="429.9" cy="96.1" r="3.45" fill="#111"/>
<circle cx="439.6" cy="91.5" r="3.45" fill="#111"/>
<circle cx="449.7" cy="86.7" r="3.45" fill="#111"/>
<circle cx="459.4" cy="82.2" r="3.45" fill="#111"/>
<circle cx="469.3" cy="77.3" r="3.45" fill="#111"/>
<circle cx="479.3" cy="72.3" r="3.45" fill="#111"/>
<circle cx="488.9" cy="67.5" r="3.45" fill="#111"/>
<circle cx="498.6" cy="63" r="3.45" fill="#111"/>
<circle cx="508.2" cy="58" r="3.45" fill="#111"/>
<circle cx="518.7" cy="53.3" r="3.45" fill="#111"/>
<circle cx="528.3" cy="48" r="3.45" fill="#111"/>
<circle cx="538.8" cy="43.2" r="3.45" fill="#111"/>
<path d="M342.8,143.4 L347.1,150.6 L338.5,150.6 Z" fill="#111"/>
<path d="M351,141.7 L355.3,148.9 L346.7,148.9 Z" fill="#111"/>
<path d="M359.2,140.6 L363.5,147.8 L354.9,147.8 Z" fill="#111"/>
<path d="M366.9,138.8 L371.2,146 L362.6,146 Z" fill="#111"/>
<path d="M375.3,137 L379.6,144.2 L371,144.2 Z" fill="#111"/>
<path d="M384,135 L388.3,142.2 L379.7,142.2 Z" fill="#111"/>
<path d="M392.8,133 L397.1,140.2 L388.5,140.2 Z" fill="#111"/>
<path d="M401.6,131.1 L405.9,138.3 L397.3,138.3 Z" fill="#111"/>
<path d="M411.2,129.2 L415.5,136.4 L406.9,136.4 Z" fill="#111"/>
<path d="M420.3,126.7 L424.6,133.9 L416,133.9 Z" fill="#111"/>
<path d="M430,124 L434.3,131.2 L425.7,131.2 Z" fill="#111"/>
<path d="M439.9,120.3 L444.2,127.5 L435.6,127.5 Z" fill="#111"/>
<path d="M449.7,116.9 L454,124.1 L445.4,124.1 Z" fill="#111"/>
<path d="M459.4,113.7 L463.7,120.9 L455.1,120.9 Z" fill="#111"/>
<path d="M469,109.9 L473.3,117.1 L464.7,117.1 Z" fill="#111"/>
<path d="M479,105.9 L483.3,113.1 L474.7,113.1 Z" fill="#111"/>
<path d="M488.4,102 L492.7,109.2 L484.1,109.2 Z" fill="#111"/>
<path d="M498.2,96.2 L502.5,103.4 L493.9,103.4 Z" fill="#111"/>
<path d="M507.9,91.3 L512.2,98.5 L503.6,98.5 Z" fill="#111"/>
<path d="M518.4,85.1 L522.7,92.3 L514.1,92.3 Z" fill="#111"/>
<path d="M528.7,79.9 L533,87.1 L524.4,87.1 Z" fill="#111"/>
<path d="M538.8,73.8 L543.1,81 L534.5,81 Z" fill="#111"/>
<circle cx="342.8" cy="138.8" r="3.35" fill="#fff" stroke="#111" stroke-width="1.65"/>
<circle cx="350.9" cy="135.9" r="3.35" fill="#fff" stroke="#111" stroke-width="1.65"/>
<circle cx="359.1" cy="133" r="3.35" fill="#fff" stroke="#111" stroke-width="1.65"/>
<circle cx="366.9" cy="130.8" r="3.35" fill="#fff" stroke="#111" stroke-width="1.65"/>
<circle cx="375.1" cy="128.3" r="3.35" fill="#fff" stroke="#111" stroke-width="1.65"/>
<circle cx="383.6" cy="126.6" r="3.35" fill="#fff" stroke="#111" stroke-width="1.65"/>
<circle cx="392.3" cy="124.5" r="3.35" fill="#fff" stroke="#111" stroke-width="1.65"/>
<circle cx="401.9" cy="122.8" r="3.35" fill="#fff" stroke="#111" stroke-width="1.65"/>
<circle cx="411.5" cy="120.7" r="3.35" fill="#fff" stroke="#111" stroke-width="1.65"/>
<circle cx="419.8" cy="119.2" r="3.35" fill="#fff" stroke="#111" stroke-width="1.65"/>
<circle cx="429.6" cy="117.3" r="3.35" fill="#fff" stroke="#111" stroke-width="1.65"/>
<circle cx="439.6" cy="115.6" r="3.35" fill="#fff" stroke="#111" stroke-width="1.65"/>
<circle cx="449.7" cy="114.1" r="3.35" fill="#fff" stroke="#111" stroke-width="1.65"/>
<circle cx="459.4" cy="112.9" r="3.35" fill="#fff" stroke="#111" stroke-width="1.65"/>
<circle cx="468.8" cy="111.5" r="3.35" fill="#fff" stroke="#111" stroke-width="1.65"/>
<circle cx="478.9" cy="111.1" r="3.35" fill="#fff" stroke="#111" stroke-width="1.65"/>
<circle cx="488.7" cy="110.3" r="3.35" fill="#fff" stroke="#111" stroke-width="1.65"/>
<circle cx="498.2" cy="110.8" r="3.35" fill="#fff" stroke="#111" stroke-width="1.65"/>
<circle cx="507.8" cy="111" r="3.35" fill="#fff" stroke="#111" stroke-width="1.65"/>
<circle cx="518.1" cy="111.3" r="3.35" fill="#fff" stroke="#111" stroke-width="1.65"/>
<circle cx="528.7" cy="112.3" r="3.35" fill="#fff" stroke="#111" stroke-width="1.65"/>
<circle cx="538.8" cy="113.4" r="3.35" fill="#fff" stroke="#111" stroke-width="1.65"/>
<path d="M327.5,316.6 v-2.8 M327.5,193.6 v2.8 M338.98,316.6 v-2.8 M338.98,193.6 v2.8 M350.45,316.6 v-2.8 M350.45,193.6 v2.8 M361.93,316.6 v-2.8 M361.93,193.6 v2.8 M373.4,316.6 v-2.8 M373.4,193.6 v2.8 M384.88,316.6 v-2.8 M384.88,193.6 v2.8 M396.35,316.6 v-2.8 M396.35,193.6 v2.8 M407.82,316.6 v-2.8 M407.82,193.6 v2.8 M419.3,316.6 v-2.8 M419.3,193.6 v2.8 M430.77,316.6 v-2.8 M430.77,193.6 v2.8 M442.25,316.6 v-2.8 M442.25,193.6 v2.8 M453.73,316.6 v-2.8 M453.73,193.6 v2.8 M465.2,316.6 v-2.8 M465.2,193.6 v2.8 M476.67,316.6 v-2.8 M476.67,193.6 v2.8 M488.15,316.6 v-2.8 M488.15,193.6 v2.8 M499.62,316.6 v-2.8 M499.62,193.6 v2.8 M511.1,316.6 v-2.8 M511.1,193.6 v2.8 M522.58,316.6 v-2.8 M522.58,193.6 v2.8 M534.05,316.6 v-2.8 M534.05,193.6 v2.8 M545.52,316.6 v-2.8 M545.52,193.6 v2.8 M557,316.6 v-2.8 M557,193.6 v2.8 M327.5,316.6 v-5.5 M327.5,193.6 v5.5 M373.4,316.6 v-5.5 M373.4,193.6 v5.5 M419.3,316.6 v-5.5 M419.3,193.6 v5.5 M465.2,316.6 v-5.5 M465.2,193.6 v5.5 M511.1,316.6 v-5.5 M511.1,193.6 v5.5 M557,316.6 v-5.5 M557,193.6 v5.5 M327.5,304.26 h2.8 M557,304.26 h-2.8 M327.5,297.04 h2.8 M557,297.04 h-2.8 M327.5,291.92 h2.8 M557,291.92 h-2.8 M327.5,287.94 h2.8 M557,287.94 h-2.8 M327.5,284.7 h2.8 M557,284.7 h-2.8 M327.5,281.95 h2.8 M557,281.95 h-2.8 M327.5,279.57 h2.8 M557,279.57 h-2.8 M327.5,277.48 h2.8 M557,277.48 h-2.8 M327.5,263.26 h2.8 M557,263.26 h-2.8 M327.5,256.04 h2.8 M557,256.04 h-2.8 M327.5,250.92 h2.8 M557,250.92 h-2.8 M327.5,246.94 h2.8 M557,246.94 h-2.8 M327.5,243.7 h2.8 M557,243.7 h-2.8 M327.5,240.95 h2.8 M557,240.95 h-2.8 M327.5,238.57 h2.8 M557,238.57 h-2.8 M327.5,236.48 h2.8 M557,236.48 h-2.8 M327.5,222.26 h2.8 M557,222.26 h-2.8 M327.5,215.04 h2.8 M557,215.04 h-2.8 M327.5,209.92 h2.8 M557,209.92 h-2.8 M327.5,205.94 h2.8 M557,205.94 h-2.8 M327.5,202.7 h2.8 M557,202.7 h-2.8 M327.5,199.95 h2.8 M557,199.95 h-2.8 M327.5,197.57 h2.8 M557,197.57 h-2.8 M327.5,195.48 h2.8 M557,195.48 h-2.8 M327.5,316.6 h5.5 M557,316.6 h-5.5 M327.5,275.6 h5.5 M557,275.6 h-5.5 M327.5,234.6 h5.5 M557,234.6 h-5.5 M327.5,193.6 h5.5 M557,193.6 h-5.5 " stroke="#111" stroke-width="1.5" fill="none"/>
<rect x="327.5" y="193.6" width="229.5" height="123" fill="none" stroke="#111" stroke-width="1.8"/>
<text x="327.5" y="328.8" font-size="12" text-anchor="middle" fill="#2e2e2e" >0</text>
<text x="373.4" y="328.8" font-size="12" text-anchor="middle" fill="#2e2e2e" >20</text>
<text x="419.3" y="328.8" font-size="12" text-anchor="middle" fill="#2e2e2e" >40</text>
<text x="465.2" y="328.8" font-size="12" text-anchor="middle" fill="#2e2e2e" >60</text>
<text x="511.1" y="328.8" font-size="12" text-anchor="middle" fill="#2e2e2e" >80</text>
<text x="557" y="328.8" font-size="12" text-anchor="middle" fill="#2e2e2e" >100</text>
<text x="313.5" y="323.3" font-size="12" text-anchor="middle" fill="#2e2e2e">10<tspan font-size="9" dx="0.6" dy="-5.6">8</tspan></text>
<text x="313.5" y="282.3" font-size="12" text-anchor="middle" fill="#2e2e2e">10<tspan font-size="9" dx="0.6" dy="-5.6">9</tspan></text>
<text x="313.5" y="241.3" font-size="12" text-anchor="middle" fill="#2e2e2e">10<tspan font-size="9" dx="0.6" dy="-5.6">10</tspan></text>
<text x="313.5" y="200.3" font-size="12" text-anchor="middle" fill="#2e2e2e">10<tspan font-size="9" dx="0.6" dy="-5.6">11</tspan></text>
<text x="447.5" y="341.9" font-size="14.5" text-anchor="middle" fill="#2e2e2e" >Fiber position (%)</text>
<text transform="translate(296.5,254.2) rotate(-90)" font-size="14.5" text-anchor="middle" fill="#2e2e2e">Intensity (W/cm<tspan font-size="9.5" dy="-5">2</tspan><tspan dy="5">)</tspan></text>
<text transform="translate(338.4,215.2) scale(1,1.08)" font-size="14" letter-spacing="0.4" fill="#2e2e2e">(d)</text>
<path d="M328.4,283.4 L351.2,258.0 Q355.6,253.0 361.8,251.9 L375,250.9 L555.5,250.3" fill="none" stroke="#111" stroke-width="2.4" stroke-linejoin="round"/>
<path d="M328,278.41 L329.91,278.04 L331.82,277.42 L333.74,276.62 L335.65,275.69 L337.56,274.67 L339.47,273.57 L341.38,272.43 L343.29,271.26 L345.21,270.08 L347.12,268.89 L349.03,267.69 L350.94,266.51 L352.85,265.34 L354.76,264.18 L356.68,263.04 L358.59,261.92 L360.5,260.82 L362.41,259.75 L364.32,258.69 L366.24,257.67 L368.15,256.66 L370.06,255.68 L371.97,254.73 L373.88,253.8 L375.79,252.89 L377.71,252 L379.62,251.14 L381.53,250.3 L383.44,249.49 L385.35,248.69 L387.26,247.92 L389.18,247.17 L391.09,246.43 L393,245.72 L394.91,245.03 L396.82,244.35 L398.74,243.7 L400.65,243.06 L402.56,242.44 L404.47,241.83 L406.38,241.24 L408.29,240.67 L410.21,240.11 L412.12,239.57 L414.03,239.04 L415.94,238.52 L417.85,238.02 L419.76,237.54 L421.68,237.06 L423.59,236.6 L425.5,236.15 L427.41,235.71 L429.32,235.29 L431.24,234.87 L433.15,234.47 L435.06,234.07 L436.97,233.69 L438.88,233.32 L440.79,232.95 L442.71,232.6 L444.62,232.25 L446.53,231.92 L448.44,231.59 L450.35,231.27 L452.26,230.96 L454.18,230.66 L456.09,230.37 L458,230.08 L459.91,229.8 L461.82,229.53 L463.74,229.27 L465.65,229.01 L467.56,228.76 L469.47,228.51 L471.38,228.28 L473.29,228.04 L475.21,227.82 L477.12,227.6 L479.03,227.38 L480.94,227.18 L482.85,226.97 L484.76,226.78 L486.68,226.58 L488.59,226.4 L490.5,226.22 L492.41,226.04 L494.32,225.87 L496.24,225.7 L498.15,225.53 L500.06,225.38 L501.97,225.22 L503.88,225.07 L505.79,224.92 L507.71,224.78 L509.62,224.64 L511.53,224.51 L513.44,224.38 L515.35,224.25 L517.26,224.13 L519.18,224.01 L521.09,223.89 L523,223.78 L524.91,223.67 L526.82,223.56 L528.74,223.46 L530.65,223.36 L532.56,223.26 L534.47,223.17 L536.38,223.08 L538.29,222.99 L540.21,222.9 L542.12,222.82 L544.03,222.74 L545.94,222.66 L547.85,222.58 L549.76,222.51 L551.68,222.44 L553.59,222.37 L555.5,222.31" fill="none" stroke="#1ba1e2" stroke-width="2.4" stroke-linejoin="round" />
<path d="M328,260.33 L329.91,258.86 L331.82,257.32 L333.74,255.76 L335.65,254.19 L337.56,252.65 L339.47,251.13 L341.38,249.65 L343.29,248.21 L345.21,246.82 L347.12,245.49 L349.03,244.2 L350.94,242.96 L352.85,241.78 L354.76,240.65 L356.68,239.56 L358.59,238.52 L360.5,237.53 L362.41,236.58 L364.32,235.67 L366.24,234.8 L368.15,233.98 L370.06,233.18 L371.97,232.43 L373.88,231.7 L375.79,231.01 L377.71,230.35 L379.62,229.72 L381.53,229.12 L383.44,228.54 L385.35,227.99 L387.26,227.47 L389.18,226.96 L391.09,226.48 L393,226.02 L394.91,225.58 L396.82,225.16 L398.74,224.76 L400.65,224.37 L402.56,224 L404.47,223.65 L406.38,223.31 L408.29,222.99 L410.21,222.68 L412.12,222.38 L414.03,222.1 L415.94,221.83 L417.85,221.57 L419.76,221.32 L421.68,221.08 L423.59,220.85 L425.5,220.63 L427.41,220.42 L429.32,220.22 L431.24,220.03 L433.15,219.84 L435.06,219.67 L436.97,219.5 L438.88,219.33 L440.79,219.18 L442.71,219.03 L444.62,218.88 L446.53,218.75 L448.44,218.61 L450.35,218.49 L452.26,218.36 L454.18,218.25 L456.09,218.14 L458,218.03 L459.91,217.92 L461.82,217.82 L463.74,217.73 L465.65,217.64 L467.56,217.55 L469.47,217.46 L471.38,217.38 L473.29,217.3 L475.21,217.23 L477.12,217.15 L479.03,217.08 L480.94,217.02 L482.85,216.95 L484.76,216.89 L486.68,216.83 L488.59,216.77 L490.5,216.71 L492.41,216.66 L494.32,216.6 L496.24,216.55 L498.15,216.5 L500.06,216.45 L501.97,216.4 L503.88,216.36 L505.79,216.31 L507.71,216.27 L509.62,216.23 L511.53,216.19 L513.44,216.15 L515.35,216.11 L517.26,216.07 L519.18,216.03 L521.09,216 L523,215.96 L524.91,215.92 L526.82,215.89 L528.74,215.86 L530.65,215.82 L532.56,215.79 L534.47,215.76 L536.38,215.72 L538.29,215.69 L540.21,215.66 L542.12,215.63 L544.03,215.6 L545.94,215.56 L547.85,215.53 L549.76,215.5 L551.68,215.47 L553.59,215.44 L555.5,215.41" fill="none" stroke="#e8302a" stroke-width="2.4" stroke-linejoin="round" />
<text x="386" y="288" font-size="12" text-anchor="start" fill="#2e2e2e" letter-spacing="0.15">Amplifier stage</text>
<path d="M390.7,299.2 L403.7,299.2" fill="none" stroke="#e8302a" stroke-width="2.3" stroke-linejoin="round" />
<text x="408.4" y="303.8" font-size="12" text-anchor="start" fill="#2e2e2e" >30/250 DC</text>
<path d="M472.1,284.7 L485.2,284.7" fill="none" stroke="#1ba1e2" stroke-width="2.3" stroke-linejoin="round" />
<text x="490.2" y="288.6" font-size="12" text-anchor="start" fill="#2e2e2e" >15/130 DC</text>
<path d="M472.1,299.2 L485.2,299.2" fill="none" stroke="#111" stroke-width="2.3" stroke-linejoin="round" />
<text x="490.2" y="303.2" font-size="12" text-anchor="start" fill="#2e2e2e" >6/125 SM</text>
</svg>
</body></html>
